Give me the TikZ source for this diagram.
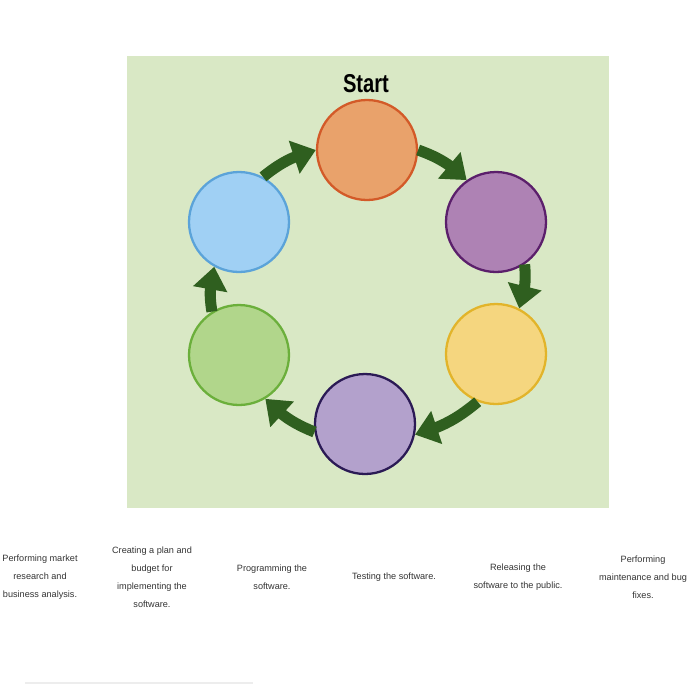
\documentclass[tikz,border=0pt]{standalone}
\usepackage{fontspec}
\setmainfont{Liberation Sans}
\usetikzlibrary{arrows.meta,bending}

\definecolor{panel}{HTML}{D9E8C5}
\definecolor{flowgreen}{HTML}{2F5F1F}
\definecolor{captiongray}{HTML}{333333}
\definecolor{planfill}{HTML}{E9A26B}
\definecolor{plandraw}{HTML}{D35A28}
\definecolor{codefill}{HTML}{AE82B4}
\definecolor{codedraw}{HTML}{5B1F6B}
\definecolor{testfill}{HTML}{F5D67F}
\definecolor{testdraw}{HTML}{E2B42A}
\definecolor{releasefill}{HTML}{B3A1CC}
\definecolor{releasedraw}{HTML}{2B1A55}
\definecolor{supportfill}{HTML}{B1D68B}
\definecolor{supportdraw}{HTML}{6BAF3B}
\definecolor{marketfill}{HTML}{A0D0F4}
\definecolor{marketdraw}{HTML}{5BA3D9}

\begin{document}
\begin{tikzpicture}[x=0.02cm, y=-0.02cm, >={Triangle[length=13pt, width=19pt, flex]}]
      \tikzset{
	  stage/.style={circle, draw, line width=1.3pt, inner sep=0em, minimum size=2cm},
	  flow/.style={->, draw=flowgreen, line width=6.3pt, bend left=12},
	  caption/.style={text=captiongray, align=center, font=\fontsize{5.2}{10.2}\selectfont},
      }
      \useasboundingbox (0,0) rectangle (700,684);
      \fill [panel] (127,56) rectangle (609,508);

      \node (start) at (366,84) [font=\bfseries\fontsize{14.7}{16}\selectfont, xscale=0.78] {Start};

      \node (plan)    at (367,150) [stage, fill=planfill, draw=plandraw] {};
      \node (code)    at (496,222) [stage, fill=codefill, draw=codedraw] {};
      \node (test)    at (496,354) [stage, fill=testfill, draw=testdraw] {};
      \node (release) at (365,424) [stage, fill=releasefill, draw=releasedraw] {};
      \node (support) at (239,355) [stage, fill=supportfill, draw=supportdraw] {};
      \node (market)  at (239,222) [stage, fill=marketfill, draw=marketdraw] {};

      \draw [flow] (market.62) to (plan.180);
      \draw [flow] (plan.0) to (code.125);
      \draw [flow] (code.-56) to (test.63);
      \draw [flow] (test.-111) to (release.-12);
      \draw [flow] (release.-171) to (support.-59);
      \draw [flow] (support.122) to (market.241);

      \node (t1) at (40,577)  [caption] {Performing market\\research and\\business analysis.};
      \node (t2) at (152,577) [caption] {Creating a plan and\\budget for\\implementing the\\software.};
      \node (t3) at (272,577) [caption] {Programming the\\software.};
      \node (t4) at (394,577) [caption] {Testing the software.};
      \node (t5) at (518,577) [caption] {Releasing the\\software to the public.};
      \node (t6) at (643,577) [caption] {Performing\\maintenance and bug\\fixes.};

      \draw [black!7, line width=0.6pt] (25,683) -- (253,683);
    \end{tikzpicture}
\end{document}
